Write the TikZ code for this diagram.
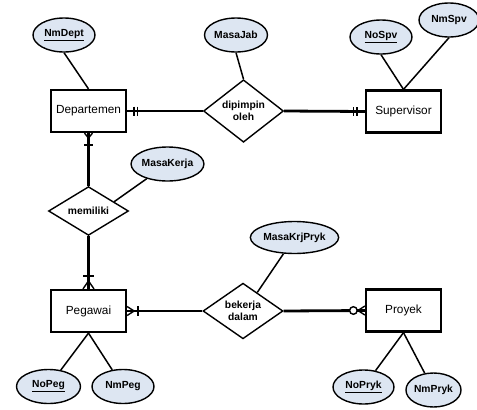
\documentclass[tikz,border=0pt]{standalone}
\usepackage{fontspec}
\setmainfont{Liberation Sans}
\usetikzlibrary{shapes.geometric,calc}
\definecolor{attrfill}{HTML}{DDE6F2}
\tikzset{
  entity/.style={draw,line width=2.2pt,minimum width=75pt,minimum height=42pt,inner sep=0pt,font=\fontsize{11.8}{13}\selectfont},
  attr/.style={draw,ellipse,fill=attrfill,line width=1.4pt,inner sep=0pt,minimum height=34pt,font=\fontsize{10.3}{12}\selectfont\bfseries},
  rel/.style={draw,diamond,line width=1.4pt,inner sep=0pt,minimum width=80pt,minimum height=46pt,align=center,font=\fontsize{10.3}{12}\selectfont\bfseries},
  alink/.style={line width=1.5pt},
  rlink/.style={line width=2.8pt},
  cmark/.style={line width=1.4pt}
}
\begin{document}
\begin{tikzpicture}[x=1pt,y=-1pt]
\useasboundingbox (0,0) rectangle (477,410);
% entities
\node[entity] (dept) at (88.5,111) {Departemen};
\node[entity] (sup) at (403.5,111.5) {Supervisor};
\node[entity] (peg) at (88.5,311) {Pegawai};
\node[entity] (pry) at (403.5,310.5) {Proyek};
% relationships
\node[rel] (dip) at (243.5,111) {dipimpin\\oleh};
\node[rel] (mem) at (88.5,211) {memiliki};
\node[rel] (bek) at (243,311) {bekerja\\dalam};
% attributes
\node[attr,minimum width=62pt] (nmdept) at (64,35) {\underline{NmDept}};
\node[attr,minimum width=63pt] (masajab) at (236,35) {MasaJab};
\node[attr,minimum width=62pt] (nospv) at (381,37) {\underline{NoSpv}};
\node[attr,minimum width=60pt] (nmspv) at (449,20) {NmSpv};
\node[attr,minimum width=69pt] (masakerja) at (167.5,164) {MasaKerja};
\node[attr,minimum width=85pt,minimum height=32pt] (masakrj) at (294.5,237.5) {MasaKrjPryk};
\node[attr,minimum width=64pt] (nopeg) at (48.5,386.5) {\underline{NoPeg}};
\node[attr,minimum width=62pt] (nmpeg) at (123,386.5) {NmPeg};
\node[attr,minimum width=61pt] (nopryk) at (363.5,387) {\underline{NoPryk}};
\node[attr,minimum width=54pt] (nmpryk) at (433.5,390) {NmPryk};
% attribute links
\coordinate (memp) at ($(mem.north)!0.63!(mem.east)$);
\coordinate (bekp) at ($(bek.north)!0.35!(bek.east)$);
\draw[alink] (nmdept.south) -- (dept.north);
\draw[alink] (masajab.south) -- (dip.north);
\draw[alink] (nospv.south) -- (sup.north);
\draw[alink] (nmspv.south) -- (sup.north);
\draw[alink] (masakerja) -- (memp);
\draw[alink] (masakrj) -- (bekp);
\draw[alink] (peg.south) -- (nopeg);
\draw[alink] (peg.south) -- (nmpeg);
\draw[alink] (pry.south) -- (nopryk);
\draw[alink] (pry.south) -- (nmpryk);
% relationship links
\draw[rlink] (dept.east) -- (dip.west);
\draw[rlink] (dip.east) -- (sup.west);
\draw[rlink] (dept.south) -- (mem.north);
\draw[rlink] (mem.south) -- (peg.north);
\draw[rlink] (peg.east) -- (bek.west);
\draw[rlink] (bek.east) -- (pry.west);
% cardinality marks: Departemen - dipimpin (one and only one)
\draw[cmark] ($(dept.east)+(7,-4.5)$) -- ++(0,9);
\draw[cmark] ($(dept.east)+(10.5,-4.5)$) -- ++(0,9);
\draw[cmark] ($(sup.west)+(-11.5,-4.5)$) -- ++(0,9);
\draw[cmark] ($(sup.west)+(-8,-4.5)$) -- ++(0,9);
% Departemen - memiliki (one or many)
\draw[cmark] ($(dept.south)+(-4,0)$) -- ($(dept.south)+(0,5)$) -- ($(dept.south)+(4,0)$);
\draw[cmark] ($(dept.south)+(-4.5,12)$) -- ++(9,0);
% memiliki - Pegawai (one or many)
\draw[cmark] ($(peg.north)+(-5.5,0)$) -- ($(peg.north)+(0,-8)$) -- ($(peg.north)+(5.5,0)$);
\draw[cmark] ($(peg.north)+(-5.5,-13)$) -- ++(11,0);
% Pegawai - bekerja (one or many)
\draw[cmark] ($(peg.east)+(0,-4.5)$) -- ($(peg.east)+(7,0)$) -- ($(peg.east)+(0,4.5)$);
\draw[cmark] ($(peg.east)+(11,-5)$) -- ++(0,10);
% bekerja - Proyek (zero or many)
\draw[cmark] ($(pry.west)+(0,-4.5)$) -- ($(pry.west)+(-7,0)$) -- ($(pry.west)+(0,4.5)$);
\draw[cmark,fill=white] ($(pry.west)+(-11.5,0)$) circle (3.8pt);
\end{tikzpicture}
\end{document}
